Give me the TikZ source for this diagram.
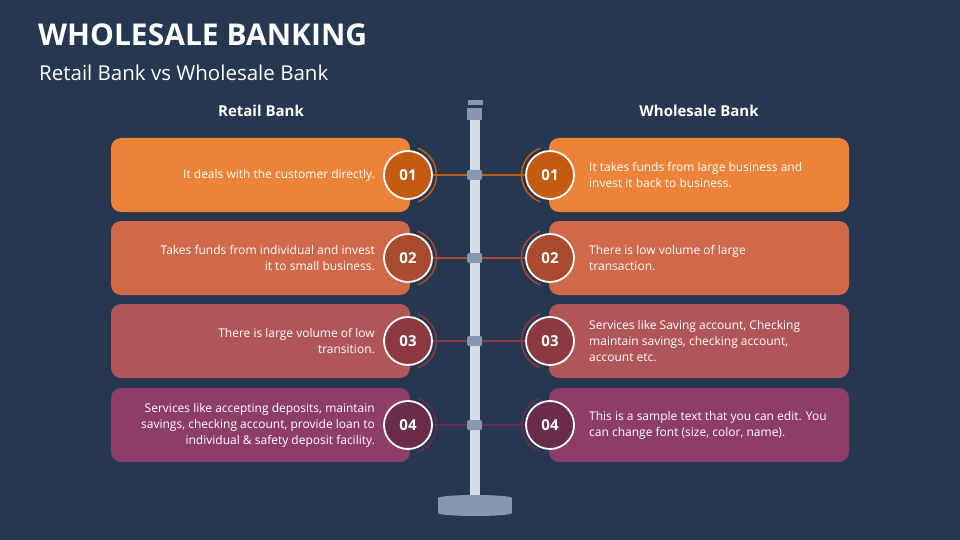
\documentclass[tikz,border=0pt]{standalone}
\usepackage{fontspec}
\setmainfont{Open Sans}
\definecolor{bg}{RGB}{37,56,80}
\definecolor{pole}{RGB}{214,220,229}
\definecolor{steel}{RGB}{133,152,176}
\begin{document}
\begin{tikzpicture}[x=1pt,y=-1pt,
  box/.style={rounded corners=10pt,inner sep=0},
  num/.style={circle,draw=white,line width=1.8pt,minimum size=48pt,inner sep=0,text=white,font=\bfseries\fontsize{15}{15}\selectfont},
  txt/.style={text=white,font=\fontsize{12}{16}\selectfont,inner sep=0}]
\fill[bg] (0,0) rectangle (960,540);
\node[anchor=west,text=white,font=\bfseries\fontsize{30}{30}\selectfont,inner sep=0] (title) at (38,35) {WHOLESALE BANKING};
\node[anchor=west,text=white,font=\fontsize{20.5}{20.5}\selectfont,inner sep=0] (sub) at (39,73) {Retail Bank vs Wholesale Bank};
\node[text=white,font=\bfseries\fontsize{15}{15}\selectfont] (hl) at (261,111) {Retail Bank};
\node[text=white,font=\bfseries\fontsize{15}{15}\selectfont] (hr) at (699,111) {Wholesale Bank};
% pole
\fill[pole] (470,112) rectangle (480,497);
\fill[steel] (468,100) rectangle (483,105);
\fill[steel] (467,108) rectangle (482,120);
\fill[steel] (438,498) rectangle (512,513);
\fill[steel] (475,498) ellipse (37 and 3);
\fill[steel] (475,513) ellipse (37 and 3);
\foreach \i/\y/\bc/\cc/\lt/\rt in {
 1/175/{237,131,57}/{197,90,17}/{It deals with the customer directly.}/{It takes funds from large business and\\invest it back to business.},
 2/258/{208,104,74}/{168,75,46}/{Takes funds from individual and invest\\it to small business.}/{There is low volume of large\\transaction.},
 3/341/{176,85,88}/{140,58,64}/{There is large volume of low\\transition.}/{Services like Saving account, Checking\\maintain savings, checking account,\\account etc.},
 4/425/{142,61,104}/{106,44,76}/{Services like accepting deposits, maintain\\savings, checking account, provide loan to\\individual \& safety deposit facility.}/{This is a sample text that you can edit. You\\can change font (size, color, name).}}{
 \definecolor{bc}{RGB}{\bc}\definecolor{cc}{RGB}{\cc}
 \fill[bc,box] (111,\y-37) rectangle (410,\y+37);
 \fill[bc,box] (549,\y-37) rectangle (849,\y+37);
 \draw[cc,line width=1.3pt] (408,\y) -- (550,\y);
 \fill[steel,rounded corners=1.5pt] (467,\y-5) rectangle (482,\y+5);
 \draw[cc,line width=1.5pt] (408,\y)++(-70:28.5) arc (-70:70:28.5);
 \draw[cc,line width=1.5pt] (550,\y)++(110:28.5) arc (110:250:28.5);
 \node[num,fill=cc] (l\i) at (408,\y) {0\i};
 \node[num,fill=cc] (r\i) at (550,\y) {0\i};
 \node[txt,anchor=east,align=right] (lt\i) at (375,\y) {\lt};
 \node[txt,anchor=west,align=left] (rt\i) at (589,\y) {\rt};
}
\end{tikzpicture}
\end{document}
